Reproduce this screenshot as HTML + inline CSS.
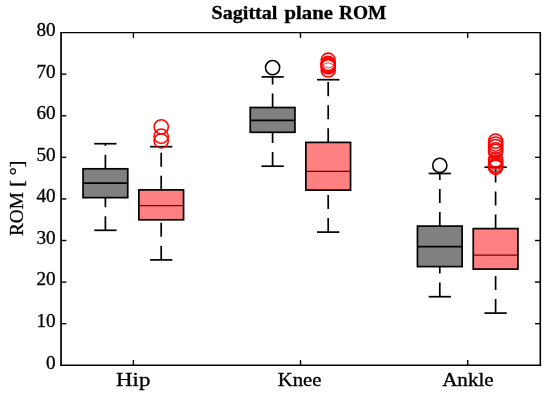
<!DOCTYPE html>
<html><head><meta charset="utf-8"><title>Sagittal plane ROM</title>
<style>html,body{margin:0;padding:0;background:#fff;}body{width:550px;height:394px;overflow:hidden;}svg{display:block;}</style>
</head><body>
<svg width="550" height="394" viewBox="0 0 550 394">
<rect x="0" y="0" width="550" height="394" fill="#fff"/>
<line x1="105.4" y1="168.8" x2="105.4" y2="143.7" stroke="#000" stroke-width="1.7" stroke-dasharray="14.1 9.0"/>
<line x1="105.4" y1="230.3" x2="105.4" y2="197.65" stroke="#000" stroke-width="1.7" stroke-dasharray="14.1 9.0"/>
<line x1="94.25" y1="143.7" x2="116.55000000000001" y2="143.7" stroke="#000" stroke-width="1.7"/>
<line x1="94.25" y1="230.3" x2="116.55000000000001" y2="230.3" stroke="#000" stroke-width="1.7"/>
<rect x="83.05000000000001" y="168.8" width="44.7" height="28.849999999999994" fill="#808080" stroke="#000" stroke-width="1.7"/>
<line x1="83.05000000000001" y1="183.1" x2="127.75" y2="183.1" stroke="#000" stroke-width="1.7"/>
<line x1="161.2" y1="189.9" x2="161.2" y2="146.7" stroke="#000" stroke-width="1.7" stroke-dasharray="14.1 9.0"/>
<line x1="161.2" y1="259.9" x2="161.2" y2="219.8" stroke="#000" stroke-width="1.7" stroke-dasharray="14.1 9.0"/>
<line x1="150.04999999999998" y1="146.7" x2="172.35" y2="146.7" stroke="#000" stroke-width="1.7"/>
<line x1="150.04999999999998" y1="259.9" x2="172.35" y2="259.9" stroke="#000" stroke-width="1.7"/>
<rect x="138.85" y="189.9" width="44.7" height="29.900000000000006" fill="#ff8080" stroke="#000" stroke-width="1.7"/>
<line x1="138.85" y1="205.6" x2="183.54999999999998" y2="205.6" stroke="#760000" stroke-width="1.3"/>
<circle cx="161.2" cy="126.9" r="7.1" fill="none" stroke="#ff0000" stroke-width="1.55"/>
<circle cx="161.2" cy="136.2" r="7.1" fill="none" stroke="#ff0000" stroke-width="1.55"/>
<circle cx="161.2" cy="140.8" r="7.1" fill="none" stroke="#ff0000" stroke-width="1.55"/>
<line x1="272.6" y1="107.5" x2="272.6" y2="76.9" stroke="#000" stroke-width="1.7" stroke-dasharray="14.1 9.0"/>
<line x1="272.6" y1="166.2" x2="272.6" y2="132.3" stroke="#000" stroke-width="1.7" stroke-dasharray="14.1 9.0"/>
<line x1="261.45000000000005" y1="76.9" x2="283.75" y2="76.9" stroke="#000" stroke-width="1.7"/>
<line x1="261.45000000000005" y1="166.2" x2="283.75" y2="166.2" stroke="#000" stroke-width="1.7"/>
<rect x="250.25000000000003" y="107.5" width="44.7" height="24.80000000000001" fill="#808080" stroke="#000" stroke-width="1.7"/>
<line x1="250.25000000000003" y1="120.4" x2="294.95000000000005" y2="120.4" stroke="#000" stroke-width="1.7"/>
<circle cx="272.6" cy="67.6" r="7.1" fill="none" stroke="#000" stroke-width="1.55"/>
<line x1="328.2" y1="142.4" x2="328.2" y2="79.7" stroke="#000" stroke-width="1.7" stroke-dasharray="14.1 9.0"/>
<line x1="328.2" y1="232.1" x2="328.2" y2="190.1" stroke="#000" stroke-width="1.7" stroke-dasharray="14.1 9.0"/>
<line x1="317.05" y1="79.7" x2="339.34999999999997" y2="79.7" stroke="#000" stroke-width="1.7"/>
<line x1="317.05" y1="232.1" x2="339.34999999999997" y2="232.1" stroke="#000" stroke-width="1.7"/>
<rect x="305.84999999999997" y="142.4" width="44.7" height="47.69999999999999" fill="#ff8080" stroke="#000" stroke-width="1.7"/>
<line x1="305.84999999999997" y1="171.3" x2="350.55" y2="171.3" stroke="#760000" stroke-width="1.3"/>
<path d="M321.09999999999997 60.2A7.1 7.1 0 0 1 335.3 60.2" fill="none" stroke="#ff0000" stroke-width="1.55"/>
<path d="M321.09999999999997 60.2A7.1 7.75 0 0 0 335.3 60.2" fill="none" stroke="#ff0000" stroke-width="0.8"/>
<circle cx="328.2" cy="63.3" r="7.1" fill="none" stroke="#ff0000" stroke-width="1.55"/>
<circle cx="328.2" cy="64.5" r="7.1" fill="none" stroke="#ff0000" stroke-width="1.55"/>
<circle cx="328.2" cy="65.7" r="7.1" fill="none" stroke="#ff0000" stroke-width="1.55"/>
<circle cx="328.2" cy="66.9" r="7.1" fill="none" stroke="#ff0000" stroke-width="1.55"/>
<path d="M321.09999999999997 69.9A7.1 7.1 0 0 0 335.3 69.9" fill="none" stroke="#ff0000" stroke-width="1.55"/>
<path d="M321.09999999999997 69.9A7.1 7.0 0 0 1 335.3 69.9" fill="none" stroke="#ff0000" stroke-width="0.8"/>
<line x1="439.8" y1="226.1" x2="439.8" y2="173.5" stroke="#000" stroke-width="1.7" stroke-dasharray="14.1 9.0"/>
<line x1="439.8" y1="296.7" x2="439.8" y2="266.6" stroke="#000" stroke-width="1.7" stroke-dasharray="14.1 9.0"/>
<line x1="428.65000000000003" y1="173.5" x2="450.95" y2="173.5" stroke="#000" stroke-width="1.7"/>
<line x1="428.65000000000003" y1="296.7" x2="450.95" y2="296.7" stroke="#000" stroke-width="1.7"/>
<rect x="417.45" y="226.1" width="44.7" height="40.50000000000003" fill="#808080" stroke="#000" stroke-width="1.7"/>
<line x1="417.45" y1="246.7" x2="462.15000000000003" y2="246.7" stroke="#000" stroke-width="1.7"/>
<circle cx="439.8" cy="165.4" r="7.1" fill="none" stroke="#000" stroke-width="1.55"/>
<line x1="495.6" y1="228.6" x2="495.6" y2="167.2" stroke="#000" stroke-width="1.7" stroke-dasharray="14.1 9.0"/>
<line x1="495.6" y1="313.1" x2="495.6" y2="269.1" stroke="#000" stroke-width="1.7" stroke-dasharray="14.1 9.0"/>
<line x1="484.45000000000005" y1="167.2" x2="506.75" y2="167.2" stroke="#000" stroke-width="1.7"/>
<line x1="484.45000000000005" y1="313.1" x2="506.75" y2="313.1" stroke="#000" stroke-width="1.7"/>
<rect x="473.25" y="228.6" width="44.7" height="40.50000000000003" fill="#ff8080" stroke="#000" stroke-width="1.7"/>
<line x1="473.25" y1="255.1" x2="517.95" y2="255.1" stroke="#760000" stroke-width="1.3"/>
<circle cx="495.6" cy="141.15" r="7.1" fill="none" stroke="#ff0000" stroke-width="1.55"/>
<circle cx="495.6" cy="144.05" r="7.1" fill="none" stroke="#ff0000" stroke-width="1.55"/>
<circle cx="495.6" cy="146.65" r="7.1" fill="none" stroke="#ff0000" stroke-width="1.55"/>
<circle cx="495.6" cy="149.75" r="7.1" fill="none" stroke="#ff0000" stroke-width="1.55"/>
<circle cx="495.6" cy="151.4" r="7.1" fill="none" stroke="#ff0000" stroke-width="1.55"/>
<circle cx="495.6" cy="159.9" r="7.1" fill="none" stroke="#ff0000" stroke-width="1.55"/>
<circle cx="495.6" cy="162.2" r="7.1" fill="none" stroke="#ff0000" stroke-width="1.55"/>
<circle cx="495.6" cy="164.8" r="7.1" fill="none" stroke="#ff0000" stroke-width="1.55"/>
<circle cx="495.6" cy="166.3" r="7.1" fill="none" stroke="#ff0000" stroke-width="1.55"/>
<circle cx="495.6" cy="167.3" r="7.1" fill="none" stroke="#ff0000" stroke-width="1.55"/>
<path d="M61.05 31.900000000000002V365.95" fill="none" stroke="#000" stroke-width="1.7"/>
<path d="M540.3 31.900000000000002V365.95" fill="none" stroke="#000" stroke-width="1.6"/>
<path d="M60.199999999999996 32.6H541.0999999999999" fill="none" stroke="#000" stroke-width="1.4"/>
<path d="M60.199999999999996 365.25H541.0999999999999" fill="none" stroke="#000" stroke-width="1.4"/>
<line x1="61.05" y1="323.67" x2="66.35" y2="323.67" stroke="#000" stroke-width="1.4"/>
<line x1="540.3" y1="323.67" x2="535.0" y2="323.67" stroke="#000" stroke-width="1.4"/>
<line x1="61.05" y1="282.09" x2="66.35" y2="282.09" stroke="#000" stroke-width="1.4"/>
<line x1="540.3" y1="282.09" x2="535.0" y2="282.09" stroke="#000" stroke-width="1.4"/>
<line x1="61.05" y1="240.51" x2="66.35" y2="240.51" stroke="#000" stroke-width="1.4"/>
<line x1="540.3" y1="240.51" x2="535.0" y2="240.51" stroke="#000" stroke-width="1.4"/>
<line x1="61.05" y1="198.93" x2="66.35" y2="198.93" stroke="#000" stroke-width="1.4"/>
<line x1="540.3" y1="198.93" x2="535.0" y2="198.93" stroke="#000" stroke-width="1.4"/>
<line x1="61.05" y1="157.34" x2="66.35" y2="157.34" stroke="#000" stroke-width="1.4"/>
<line x1="540.3" y1="157.34" x2="535.0" y2="157.34" stroke="#000" stroke-width="1.4"/>
<line x1="61.05" y1="115.76" x2="66.35" y2="115.76" stroke="#000" stroke-width="1.4"/>
<line x1="540.3" y1="115.76" x2="535.0" y2="115.76" stroke="#000" stroke-width="1.4"/>
<line x1="61.05" y1="74.18" x2="66.35" y2="74.18" stroke="#000" stroke-width="1.4"/>
<line x1="540.3" y1="74.18" x2="535.0" y2="74.18" stroke="#000" stroke-width="1.4"/>
<line x1="133.4" y1="365.25" x2="133.4" y2="359.95" stroke="#000" stroke-width="1.4"/>
<line x1="133.4" y1="32.6" x2="133.4" y2="37.9" stroke="#000" stroke-width="1.4"/>
<line x1="300.5" y1="365.25" x2="300.5" y2="359.95" stroke="#000" stroke-width="1.4"/>
<line x1="300.5" y1="32.6" x2="300.5" y2="37.9" stroke="#000" stroke-width="1.4"/>
<line x1="467.7" y1="365.25" x2="467.7" y2="359.95" stroke="#000" stroke-width="1.4"/>
<line x1="467.7" y1="32.6" x2="467.7" y2="37.9" stroke="#000" stroke-width="1.4"/>
<g font-family="'Liberation Serif', serif" font-size="18" fill="#000" stroke="#000" stroke-width="0.3">
<text transform="translate(55.6 368.65) scale(1.03 1)" text-anchor="end" font-size="18.6">0</text>
<text transform="translate(55.6 327.07) scale(1.03 1)" text-anchor="end" font-size="18.6">10</text>
<text transform="translate(55.6 285.49) scale(1.03 1)" text-anchor="end" font-size="18.6">20</text>
<text transform="translate(55.6 243.91) scale(1.03 1)" text-anchor="end" font-size="18.6">30</text>
<text transform="translate(55.6 202.33) scale(1.03 1)" text-anchor="end" font-size="18.6">40</text>
<text transform="translate(55.6 160.74) scale(1.03 1)" text-anchor="end" font-size="18.6">50</text>
<text transform="translate(55.6 119.16) scale(1.03 1)" text-anchor="end" font-size="18.6">60</text>
<text transform="translate(55.6 77.58) scale(1.03 1)" text-anchor="end" font-size="18.6">70</text>
<text transform="translate(55.6 36.00) scale(1.03 1)" text-anchor="end" font-size="18.6">80</text>
<text transform="translate(133.2 385.5) scale(1.27 1)" text-anchor="middle">Hip</text>
<text transform="translate(299.55 385.5) scale(1.154 1)" text-anchor="middle">Knee</text>
<text transform="translate(467.9 385.5) scale(1.172 1)" text-anchor="middle">Ankle</text>
<text transform="translate(22.8 236.1) rotate(-90) scale(1.07 1)">ROM</text>
<text transform="translate(22.8 186.8) rotate(-90) scale(1.104 1)">[ °]</text>
<g font-weight="bold" font-size="18.3">
<text transform="translate(211.5 18.9) scale(1.10 1)">Sagittal</text>
<text transform="translate(284.57 18.9) scale(1.133 1)">plane</text>
<text transform="translate(338.98 18.9) scale(1.059 1)">ROM</text>
</g>
</g>
</svg>
</body></html>
